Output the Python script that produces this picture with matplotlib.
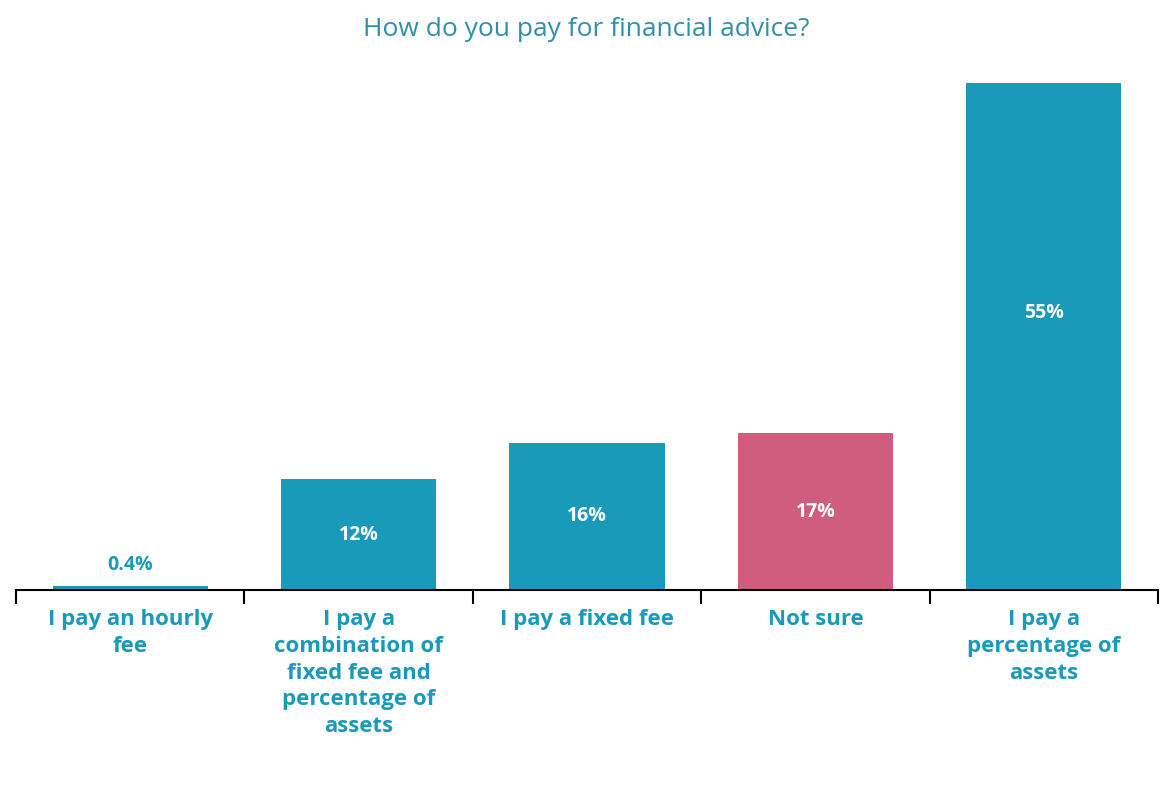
import matplotlib
matplotlib.use("Agg")
import matplotlib.pyplot as plt
import numpy as np

categories = ["I pay an hourly\nfee",
              "I pay a\ncombination of\nfixed fee and\npercentage of\nassets",
              "I pay a fixed fee",
              "Not sure",
              "I pay a\npercentage of\nassets"]
values = [0.4, 12, 16, 17, 55]
labels = ["0.4%", "12%", "16%", "17%", "55%"]

TEAL = "#1a9aba"
PINK = "#d05c7e"
colors = [TEAL, TEAL, TEAL, PINK, TEAL]

plt.rcParams["font.family"] = ["Open Sans", "DejaVu Sans"]

fig = plt.figure(figsize=(11.72, 8.02), dpi=100)
ax = fig.add_axes([16 / 1172, 1 - 590 / 802, 1142 / 1172, 507 / 802])
x = np.arange(len(values))
ax.bar(x, values, width=0.68, color=colors)
ax.set_xlim(-0.5, len(values) - 0.5)
ax.set_ylim(0, 55)

for xi, v, lab in zip(x, values, labels):
    if v < 3:
        ax.text(xi, v + 1.2, lab, ha="center", va="bottom", color=TEAL,
                fontsize=14, fontweight="bold")
    else:
        ax.text(xi, v / 2 + (2.5 if v > 40 else 0), lab, ha="center", va="center",
                color="white", fontsize=14, fontweight="bold")

for s in ["top", "right", "left"]:
    ax.spines[s].set_visible(False)
ax.spines["bottom"].set_color("black")
ax.spines["bottom"].set_linewidth(1.5)
ax.set_yticks([])
ax.set_xticks(x)
ax.set_xticklabels(categories, color=TEAL, fontsize=16, fontweight="bold",
                   linespacing=1.35)
ax.tick_params(axis="x", which="major", length=0, pad=14)
ax.set_xticks(np.arange(-0.5, len(values)), minor=True)
ax.tick_params(axis="x", which="minor", length=10, width=1.5, direction="out")

fig.text(0.5, 1 - 30 / 802, "How do you pay for financial advice?", ha="center",
         va="center", color="#2e8faa", fontsize=19)

fig.savefig("out.png", dpi=100)
